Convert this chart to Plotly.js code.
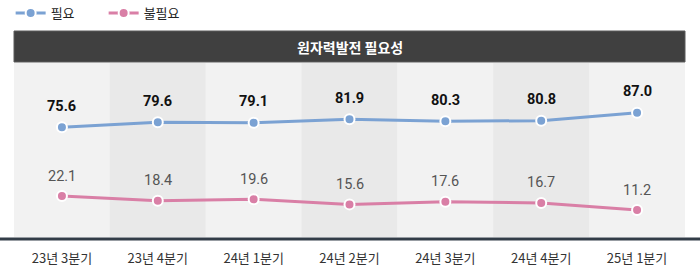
<!DOCTYPE html>
<html><head><meta charset="utf-8">
<script src="https://cdn.plot.ly/plotly-3.0.1.min.js"></script>
<style>html,body{margin:0;padding:0;background:#fff;}#chart{width:700px;height:276px;}</style>
</head><body><div id="chart"></div>
<script>
const categories = ['23년 3분기','23년 4분기','24년 1분기','24년 2분기','24년 3분기','24년 4분기','25년 1분기'];
const need = [75.6, 79.6, 79.1, 81.9, 80.3, 80.8, 87.0];
const noNeed = [22.1, 18.4, 19.6, 15.6, 17.6, 16.7, 11.2];
const seriesNames = ['필요','불필요'];
const chartTitle = '원자력발전 필요성';

const FONT = 'Roboto, "Noto Sans CJK KR", sans-serif';
const KFONT = '"Noto Sans CJK KR", "Noto Sans", sans-serif';
const blue = '#7ba2d3', pink = '#d97fa6';
const PH = 174;

const shapes = [];
categories.forEach((c,i)=>{
  shapes.push({type:'rect', xref:'x', yref:'paper', x0:i-0.5, x1:i+0.5, y0:0, y1:1,
    fillcolor: i%2 ? '#e9e9e9' : '#f2f2f2', line:{width:0}, layer:'below'});
});
shapes.push({type:'rect', xref:'paper', yref:'paper', x0:0, x1:1, y0:1.0+1/PH, y1:1.0+32/PH,
  fillcolor:'#404040', line:{color:'#5a5a5a', width:1}});
shapes.push({type:'line', xref:'paper', yref:'paper', x0:-0.03, x1:1.03, y0:-2/PH, y1:-2/PH,
  line:{color:'#333d48', width:3}});

const annotations = [];
categories.forEach((c,i)=>{
  annotations.push({x:i, y:need[i], xref:'x', yref:'y', text:need[i].toFixed(1), showarrow:false,
    yshift:21, font:{family:FONT, size:14.5, color:'#111', weight:'bold'}});
  annotations.push({x:i, y:noNeed[i], xref:'x', yref:'y', text:noNeed[i].toFixed(1), showarrow:false,
    yshift:20, font:{family:FONT, size:14.5, color:'#555'}});
});
annotations.push({xref:'paper', yref:'paper', x:0.5, y:1.0+16.5/PH, yanchor:'middle', text:'<b>'+chartTitle+'</b>', showarrow:false,
  font:{family:KFONT, size:14, color:'#fff'}});

const mk = (color)=>({size:10, color:color, line:{color:'#fff', width:2}});
const data = [
  {x:categories, y:need, name:seriesNames[0], type:'scatter', mode:'lines+markers',
   line:{color:blue, width:3}, marker:mk(blue), cliponaxis:false},
  {x:categories, y:noNeed, name:seriesNames[1], type:'scatter', mode:'lines+markers',
   line:{color:pink, width:3}, marker:mk(pink), cliponaxis:false}
];

const layout = {
  width:700, height:276,
  margin:{l:14, r:15, t:63, b:39, autoexpand:false},
  paper_bgcolor:'#fff', plot_bgcolor:'#f2f2f2',
  showlegend:true,
  legend:{orientation:'h', x:-0.005, xanchor:'left', y:1+65/PH, yanchor:'top',
    font:{family:KFONT, size:13, color:'#222'}, itemwidth:30, entrywidth:48, bgcolor:'rgba(0,0,0,0)'},
  xaxis:{type:'category', range:[-0.5, 6.5], showgrid:false, zeroline:false, showline:false,
    ticks:'outside', ticklen:9, tickcolor:'rgba(0,0,0,0)',
    tickfont:{family:KFONT, size:13, color:'#333'}, fixedrange:true},
  yaxis:{range:[-9.8, 125.7], visible:false, showgrid:false, zeroline:false, fixedrange:true},
  shapes:shapes, annotations:annotations
};
Plotly.newPlot('chart', data, layout, {displayModeBar:false, staticPlot:true});
</script></body></html>
